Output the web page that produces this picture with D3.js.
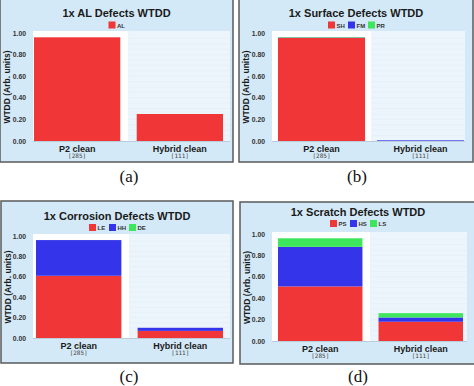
<!DOCTYPE html>
<html>
<head>
<meta charset="utf-8">
<script src="https://cdn.jsdelivr.net/npm/d3@7"></script>
<style>
  body { margin: 0; background: #fff; }
  text { font-family: "Liberation Sans", Arial, sans-serif; }
</style>
</head>
<body>
<div id="container"></div>
<script>
/* DATA */
const categories = ["P2 clean", "Hybrid clean"];
const counts = ["[285]", "[111]"];
const yTicks = [0, 0.2, 0.4, 0.6, 0.8, 1.0];

// (a) AL defects
const alNames = ["AL"];
const alAL = [0.96, 0.25];

// (b) surface defects
const surfNames = ["SH", "FM", "PR"];
const surfSH = [0.955, 0];
const surfFM = [0.003, 0.006];
const surfPR = [0.004, 0];

// (c) corrosion defects
const corrNames = ["LE", "HH", "DE"];
const corrLE = [0.61, 0.07];
const corrHH = [0.35, 0.03];
const corrDE = [0, 0];

// (d) scratch defects
const scrNames = ["PS", "HS", "LS"];
const scrPS = [0.51, 0.18];
const scrHS = [0.37, 0.04];
const scrLS = [0.08, 0.04];

const seriesColors = ["#f03636", "#3434ea", "#3de65a"];

/* SVG */
const svg = d3.select("#container")
  .append("svg")
  .attr("width", 474)
  .attr("height", 386);

function drawPanel(p) {
  const g = svg.append("g");

  // frame
  g.append("rect")
    .attr("x", p.frame[0]).attr("y", p.frame[1])
    .attr("width", p.frame[2]).attr("height", p.frame[3])
    .attr("fill", "#d3e9f7")
    .attr("stroke", "#5a5a5a")
    .attr("stroke-width", 1.5);

  const cx = p.frame[0] + p.frame[2] / 2;

  // scales
  const xScale = d3.scaleBand()
    .domain(categories)
    .range(p.barRange)
    .paddingInner(p.pad)
    .paddingOuter(0);

  const yScale = d3.scaleLinear()
    .domain([0, 1])
    .range([p.yBot, p.yTop]);

  // plot background: first band white, second pale blue
  const mid = (xScale(categories[0]) + xScale.bandwidth() + xScale(categories[1])) / 2;
  g.append("rect")
    .attr("x", p.x0).attr("y", p.yTop - 2)
    .attr("width", mid - p.x0).attr("height", p.yBot - p.yTop + 2)
    .attr("fill", "#ffffff");
  g.append("rect")
    .attr("x", mid).attr("y", p.yTop - 2)
    .attr("width", p.x1 - mid).attr("height", p.yBot - p.yTop + 2)
    .attr("fill", "#ecf5fb");
  g.selectAll(".stripe")
    .data(d3.range(0.05, 1.0, 0.05))
    .join("line")
    .attr("x1", mid).attr("x2", p.x1)
    .attr("y1", d => yScale(d)).attr("y2", d => yScale(d))
    .attr("stroke", "#e1ecf4")
    .attr("stroke-width", 0.5);

  // stacked bars
  const table = categories.map((c, i) => {
    const row = { cat: c };
    p.names.forEach((n, k) => row[n] = p.values[k][i]);
    return row;
  });
  const stacked = d3.stack().keys(p.names)(table);

  g.selectAll(".layer")
    .data(stacked)
    .join("g")
    .attr("fill", (d, i) => seriesColors[i])
    .selectAll("rect")
    .data(d => d)
    .join("rect")
    .attr("x", d => xScale(d.data.cat))
    .attr("width", xScale.bandwidth())
    .attr("y", d => yScale(d[1]))
    .attr("height", d => Math.max(0, yScale(d[0]) - yScale(d[1])));

  // baseline
  g.append("line")
    .attr("x1", p.x0).attr("x2", p.x1)
    .attr("y1", p.yBot + 0.5).attr("y2", p.yBot + 0.5)
    .attr("stroke", "#b9cddb");

  // y axis
  const yAxis = d3.axisLeft(yScale)
    .tickValues(yTicks)
    .tickFormat(d3.format(".2f"))
    .tickSize(0)
    .tickPadding(7);
  const ya = g.append("g")
    .attr("transform", `translate(${p.x0}, 0)`)
    .call(yAxis);
  ya.select(".domain").remove();
  ya.selectAll("text")
    .style("font-size", "6.8px")
    .style("font-weight", "bold")
    .attr("fill", "#333");

  // y title
  g.append("text")
    .attr("transform", `translate(${p.frame[0] + 10}, ${(p.yTop + p.yBot) / 2}) rotate(-90)`)
    .attr("text-anchor", "middle")
    .style("font-size", "8.5px")
    .style("font-weight", "bold")
    .attr("fill", "#1a1a1a")
    .text("WTDD (Arb. units)");

  // category labels
  categories.forEach((c, i) => {
    const xc = xScale(c) + xScale.bandwidth() / 2;
    g.append("text")
      .attr("x", xc).attr("y", p.yBot + 10.5)
      .attr("text-anchor", "middle")
      .style("font-size", "9px")
      .style("font-weight", "bold")
      .attr("fill", "#1a1a1a")
      .text(c);
    g.append("text")
      .attr("x", xc).attr("y", p.yBot + 17)
      .attr("text-anchor", "middle")
      .style("font-size", "6px")
      .style("font-family", "DejaVu Sans Mono, monospace")
      .attr("fill", "#444")
      .text(counts[i]);
  });

  // title
  g.append("text")
    .attr("x", cx).attr("y", p.titleY)
    .attr("text-anchor", "middle")
    .style("font-size", "11px")
    .style("font-weight", "bold")
    .attr("fill", "#1a1a1a")
    .text(p.title);

  // legend
  const lx = cx - p.names.length * 10 + 2;
  p.names.forEach((n, i) => {
    g.append("rect")
      .attr("x", lx + i * 20).attr("y", p.legendY)
      .attr("width", 7).attr("height", 7)
      .attr("fill", seriesColors[i]);
    g.append("text")
      .attr("x", lx + i * 20 + 8.5).attr("y", p.legendY + 6)
      .style("font-size", "6px")
      .style("font-weight", "bold")
      .attr("fill", "#333")
      .text(n);
  });

  // panel letter
  svg.append("text")
    .attr("x", p.letterX).attr("y", p.letterY)
    .attr("text-anchor", "middle")
    .style("font-family", "Liberation Serif, Times New Roman, serif")
    .style("font-size", "17px")
    .attr("fill", "#111")
    .text(p.letter);
}

drawPanel({
  title: "1x AL Defects WTDD", names: alNames, values: [alAL],
  frame: [0, -2, 233, 164], x0: 33, x1: 230, yTop: 33, yBot: 141,
  barRange: [34, 223], pad: 0.16, titleY: 17, legendY: 21.5,
  letter: "(a)", letterX: 129, letterY: 182
});
drawPanel({
  title: "1x Surface Defects WTDD", names: surfNames, values: [surfSH, surfFM, surfPR],
  frame: [239, -2, 234, 164], x0: 272, x1: 465, yTop: 33, yBot: 141,
  barRange: [278, 464], pad: 0.12, titleY: 17, legendY: 21.5,
  letter: "(b)", letterX: 357, letterY: 182
});
drawPanel({
  title: "1x Corrosion Defects WTDD", names: corrNames, values: [corrLE, corrHH, corrDE],
  frame: [1, 201, 232, 162], x0: 33, x1: 230, yTop: 236, yBot: 338,
  barRange: [36, 223], pad: 0.16, titleY: 220, legendY: 224,
  letter: "(c)", letterX: 129, letterY: 382
});
drawPanel({
  title: "1x Scratch Defects WTDD", names: scrNames, values: [scrPS, scrHS, scrLS],
  frame: [240, 202, 236, 162], x0: 272, x1: 467, yTop: 234, yBot: 341,
  barRange: [278, 463], pad: 0.16, titleY: 216, legendY: 220,
  letter: "(d)", letterX: 358, letterY: 382
});
</script>
</body>
</html>
